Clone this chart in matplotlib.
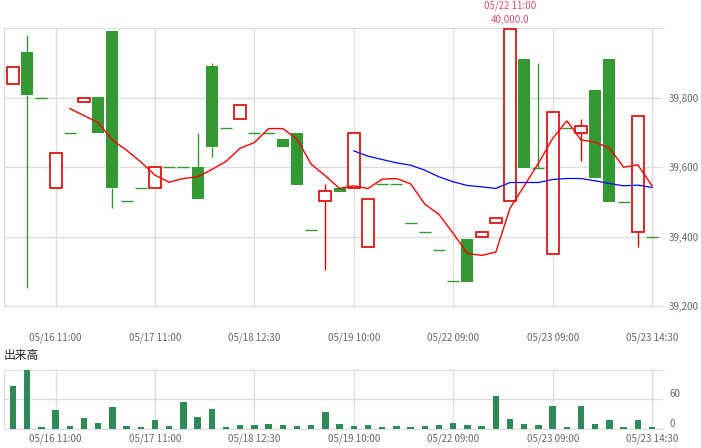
import numpy as np
import matplotlib.pyplot as plt

plt.rcParams['font.family'] = ['Noto Sans CJK JP', 'DejaVu Sans']

opens = [39840, 39930, 39800, 39541, 39699, 39788, 39800, 39990, 39501, 39541,
         39541, 39599, 39599, 39599, 39890, 39711, 39739, 39699, 39699, 39680,
         39699, 39420, 39501, 39541, 39541, 39371, 39551, 39551, 39440, 39412,
         39361, 39271, 39393, 39400, 39440, 39501, 39910, 39598, 39351, 39713,
         39699, 39821, 39910, 39500, 39412, 39400]
closes = [39889, 39807, 39800, 39639, 39699, 39800, 39698, 39540, 39501, 39541,
          39599, 39599, 39599, 39508, 39658, 39711, 39779, 39699, 39699, 39658,
          39549, 39420, 39530, 39529, 39699, 39509, 39551, 39551, 39440, 39412,
          39361, 39271, 39270, 39412, 39452, 39998, 39598, 39598, 39759, 39713,
          39718, 39569, 39500, 39500, 39748, 39400]
highs = [39889, 39979, 39800, 39639, 39699, 39800, 39800, 39990, 39501, 39541,
         39599, 39599, 39599, 39699, 39898, 39711, 39779, 39699, 39699, 39680,
         39699, 39420, 39551, 39541, 39699, 39509, 39551, 39551, 39440, 39412,
         39361, 39271, 39393, 39412, 39452, 39998, 39910, 39899, 39759, 39713,
         39739, 39821, 39910, 39500, 39748, 39400]
lows = [39840, 39251, 39800, 39541, 39699, 39788, 39698, 39481, 39501, 39541,
        39541, 39599, 39599, 39508, 39629, 39711, 39739, 39699, 39699, 39658,
        39549, 39420, 39303, 39529, 39541, 39371, 39551, 39551, 39440, 39412,
        39361, 39271, 39270, 39400, 39440, 39501, 39598, 39598, 39351, 39713,
        39618, 39569, 39500, 39500, 39371, 39400]
volumes = [86, 118, 4, 37, 6, 22, 12, 43, 6, 4, 17, 6, 53, 24, 40, 4, 8, 8, 10, 8,
           6, 8, 33, 10, 6, 8, 4, 6, 4, 6, 8, 12, 8, 6, 65, 20, 10, 8, 45, 4,
           45, 10, 17, 4, 17, 4]

ma_red_start = 4
ma_red_y = [325, 346, 367, 420, 450, 485, 525, 546, 535, 530, 508, 484, 444, 427,
            385, 385, 417, 492, 527, 565, 557, 565, 537, 535, 551, 612, 643, 700,
            760, 766, 756, 624, 557, 489, 415, 362, 419, 426, 444, 501, 494, 557]
ma_blue_start = 24
ma_blue_y = [452, 468, 478, 488, 495, 510, 530, 545, 556, 560, 565, 547, 547, 547,
             538, 535, 535, 542, 550, 557, 555, 562]
ma_red = [39200 + (918 - y) * 0.958 for y in ma_red_y]
ma_blue = [39200 + (918 - y) * 0.958 for y in ma_blue_y]

tick_idx = [3, 10, 17, 24, 31, 38, 45]
tick_labels = ["05/16 11:00", "05/17 11:00", "05/18 12:30", "05/19 10:00",
               "05/22 09:00", "05/23 09:00", "05/23 14:30"]

green = "#339933"
red = "#dd0000"
grid_c = "#dddddd"
txt_c = "#666666"

fig = plt.figure(figsize=(7.01, 4.48), dpi=100)
W, H = 701, 448
ax = fig.add_axes([4 / W, 1 - 306 / H, 659 / W, 278 / H])
axv = fig.add_axes([4 / W, 1 - 429 / H, 659 / W, 59 / H])

x = np.arange(len(opens))
o = np.array(opens); c = np.array(closes); h = np.array(highs); l = np.array(lows)
w = 0.85

for i in x:
    top, bot = max(o[i], c[i]), min(o[i], c[i])
    col = red if c[i] > o[i] else green
    if h[i] > top:
        ax.vlines(i, top, h[i], color=col, lw=1, zorder=2)
    if l[i] < bot:
        ax.vlines(i, l[i], bot, color=col, lw=1, zorder=2)
    if top == bot:
        ax.hlines(top, i - w / 2, i + w / 2, color=green, lw=1, zorder=3)
    elif c[i] > o[i]:
        ax.bar(i, top - bot, bottom=bot, width=w, facecolor="white",
               edgecolor=red, lw=1.2, zorder=3)
    else:
        ax.bar(i, top - bot, bottom=bot, width=w, color=green, lw=0, zorder=3)

ax.plot(np.arange(ma_red_start, ma_red_start + len(ma_red)), ma_red, color="red", lw=1, zorder=4)
ax.plot(np.arange(ma_blue_start, ma_blue_start + len(ma_blue)), ma_blue, color="blue", lw=0.9, zorder=4)

xl = (-0.63, 45.77)
ax.set_xlim(*xl)
ax.set_ylim(39200, 40000)
ax.set_yticks([39200, 39400, 39600, 39800])
ax.set_yticklabels(["39,200", "39,400", "39,600", "39,800"])
ax.yaxis.tick_right()
ax.set_xticks(tick_idx)
ax.set_xticklabels(tick_labels)
ax.grid(True, color=grid_c, lw=1)
ax.set_axisbelow(True)
ax.tick_params(length=0, labelsize=7, colors=txt_c, pad=4)
ax.tick_params(axis="x", pad=19)
for s in ax.spines.values():
    s.set_color(grid_c)
ax.spines["right"].set_visible(False)

ax.annotate("05/22 11:00\n40,000.0", xy=(35, 40000), xytext=(0, 2),
            textcoords="offset points", ha="center", va="bottom",
            fontsize=7, color="#e05070", linespacing=1.5, annotation_clip=False)

axv.bar(x, volumes, width=0.45, color="#2e8b57", zorder=3)
axv.set_xlim(*xl)
axv.set_ylim(0, 117)
axv.set_yticks([0, 60])
axv.yaxis.tick_right()
axv.set_xticks(tick_idx)
axv.set_xticklabels(tick_labels)
axv.grid(True, color=grid_c, lw=1)
axv.set_axisbelow(True)
axv.tick_params(length=0, labelsize=7, colors=txt_c, pad=3)
axv.tick_params(axis="y", pad=5)
for lab in axv.get_yticklabels():
    lab.set_va("bottom")
for s in axv.spines.values():
    s.set_color(grid_c)
axv.spines["right"].set_visible(False)

fig.text(4 / W, 1 - 356 / H, "出来高", fontsize=8.5, color="#222222", va="center")

fig.savefig("out.png", dpi=100)
